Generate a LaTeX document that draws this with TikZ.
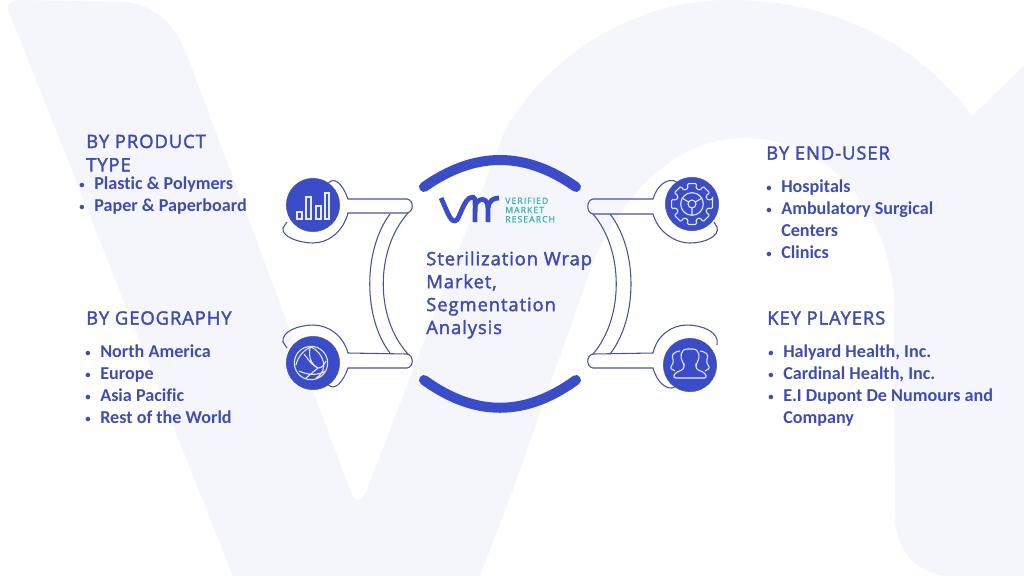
\documentclass[tikz,border=0pt]{standalone}
\usepackage{fontspec}
\setmainfont[Ligatures=NoCommon]{Carlito}
\newfontfamily\headfont[LetterSpace=5,FakeBold=2]{Open Sans}
\newfontfamily\logofont[LetterSpace=12,FakeBold=1]{Open Sans}
\usetikzlibrary{positioning}
\usetikzlibrary{calc}
\definecolor{wmark}{HTML}{F5F6FB}
\definecolor{ringblue}{HTML}{3A4CC8}
\definecolor{inkblue}{HTML}{3F4DB0}
\definecolor{linkblue}{HTML}{4A5296}
\definecolor{tealtxt}{HTML}{35B5B0}
\begin{document}
\begin{tikzpicture}[x=0.75pt,y=-0.75pt]
\tikzstyle{heading}=[anchor=west,inner sep=0pt,text=inkblue,font=\headfont\fontsize{13.8}{17.5}\selectfont,align=left]
\tikzstyle{itemlist}=[anchor=north west,inner sep=0pt,text=inkblue,font=\bfseries\fontsize{13.6}{16.5}\selectfont,align=left]
\tikzstyle{badge}=[circle,fill=ringblue,draw=linkblue,minimum size=40pt,inner sep=0pt]
\tikzstyle{link}=[draw=linkblue,line width=0.8pt]
\tikzstyle{glyph}=[draw=white!88!ringblue,line width=0.8pt]
\newcommand{\bulletrow}[1]{\makebox[11.25pt][l]{\raisebox{1pt}{\fontsize{8}{8}\selectfont\textbullet}}#1}
\useasboundingbox (0,0) rectangle (1024,576);
\fill [white] (0,0) rectangle (1024,576);

% watermark
\fill [wmark] (7,7) .. controls (9,2) and (14,0) .. (20,0) -- (125,2) .. controls (155,5) and (175,25) .. (187,55) -- (350,490) .. controls (354,503) and (362,503) .. (367,490) -- (505,130) .. controls (545,60) and (630,0) .. (729,0) .. controls (830,0) and (915,40) .. (972,116) -- (1024,66) -- (1024,576) -- (945,576) .. controls (910,570) and (895,545) .. (895,515) -- (894,294) .. controls (885,200) and (820,138) .. (745,138) .. controls (680,138) and (630,185) .. (595,257) -- (512,492) -- (480,576) -- (233,576) -- cycle;

% centre arcs
\draw [ringblue,line width=7.5pt,line cap=round] (424,187) .. controls (475,151) and (525,151) .. (576,187);
\draw [ringblue,line width=7.5pt,line cap=round] (424,380) .. controls (475,417) and (525,417) .. (576,380);

% badges
\node [badge] (B1) at (313,205) {};
\node [badge] (B2) at (313,363) {};
\node [badge] (B3) at (692,204) {};
\node [badge] (B4) at (690,365) {};

% left links
\draw [link] (B1.55) .. controls (335,176) and (343,185) .. (348,199) -- (407,199) .. controls (414,200) and (414,212) .. (407,213) -- (348,213) .. controls (343,232) and (328,243) .. (313,243) .. controls (298,243) and (281,236) .. (283,228) -- (287,222);
\draw [link] (B2.305) .. controls (335,391) and (343,382) .. (348,368) -- (407,368) .. controls (414,367) and (414,355) .. (407,354) -- (348,353) .. controls (343,335) and (328,325) .. (313,325) .. controls (298,325) and (281,332) .. (283,342) -- (287,348);
\draw [link] (390,214) .. controls (363,250) and (363,318) .. (390,353);
\draw [link] (408,213) .. controls (375,250) and (375,318) .. (408,354);

% right links
\draw [link] (B3.125) .. controls (668,177) and (657,185) .. (653,199) -- (593,199) .. controls (586,200) and (586,213) .. (593,214) -- (653,214) .. controls (658,232) and (675,243) .. (690,243) .. controls (705,243) and (720,236) .. (717,227) -- (714,222);
\draw [link] (B4.235) .. controls (668,391) and (657,383) .. (653,368) -- (593,368) .. controls (586,367) and (586,355) .. (593,354) -- (653,353) .. controls (657,335) and (672,325) .. (687,325) .. controls (702,325) and (720,332) .. (717,345);
\draw [link] (593,214) .. controls (624,250) and (624,318) .. (593,354);
\draw [link] (610,214) .. controls (638,250) and (638,318) .. (610,354);

% icons
\draw [glyph] (297,212) rectangle (302,219) (306,197) rectangle (311,219) (316,206) rectangle (321,219) (325,193) rectangle (329,219);
\draw [glyph] (311,363) circle (12.5pt) (296,365) .. controls (298,356) and (304,350) .. (311,347) (311,347) .. controls (323,352) and (330,370) .. (316,378) (304,354) .. controls (310,362) and (313,366) .. (318,368) .. controls (322,368) and (324,365) .. (326,361) (299,371) .. controls (310,376) and (318,375) .. (326,371) (310,348) .. controls (308,358) and (312,365) .. (318,368) (318,368) -- (306,378);
\draw [glyph] (B3) circle (8.5pt) (B3) circle (3pt);
\draw [glyph] (692,204)+(0,4) -- +(0,11) (692,204)+(-3.5,-2) -- +(-10,-6) (692,204)+(3.5,-2) -- +(10,-6);
\draw [glyph,shift={(692,204)},rounded corners=1pt] (-13:21) foreach \a in {0,45,...,315} { -- (\a-13:21) -- (\a+13:21) -- (\a+14:16) -- (\a+31:16) } -- cycle;
\draw [glyph,rounded corners=2pt] (673,378) -- (675,373) -- (684,369) -- (684,364) .. controls (680,358) and (680,349) .. (690,349) .. controls (700,349) and (700,358) .. (696,364) -- (696,369) -- (705,373) -- (707,378) -- cycle;
\draw [glyph,rounded corners=1.5pt] (675,371) -- (670,368) -- (674,362) .. controls (671,355) and (673,352) .. (680,351);
\draw [glyph,rounded corners=1.5pt] (705,371) -- (710,368) -- (706,362) .. controls (709,355) and (707,352) .. (700,351);

% logo
\draw [ringblue,line width=3.6pt,line join=round] (441,198) .. controls (446,208) and (450,222) .. (455,221) .. controls (460,221) and (463,197) .. (473,197) .. controls (476,197) and (475,205) .. (475,222);
\draw [ringblue,line width=3.6pt] (475,206) .. controls (477,198) and (488,196) .. (488,208) -- (488,222);
\draw [ringblue,line width=3.6pt] (488,208) .. controls (489,200) and (494,198) .. (499,198);
\node [anchor=west,inner sep=0pt,text=tealtxt,align=left,font=\logofont\fontsize{6.5}{6.9}\selectfont] (logotext) at (505,210) {VERIFIED\\MARKET\\RESEARCH};

% centre title
\node [anchor=north west,inner sep=0pt,text=inkblue,align=left,font=\headfont\fontsize{13.8}{17.2}\selectfont] (title) at (426,251) {Sterilization Wrap\\Market,\\Segmentation\\Analysis};

% texts
\node [heading] (H1) at (86,153) {BY PRODUCT\\TYPE};
\node [itemlist] (L1) at (79,177) {\bulletrow{Plastic \& Polymers}\\\bulletrow{Paper \& Paperboard}};
\node [heading] (H2) at (86,318) {BY GEOGRAPHY};
\node [itemlist] (L2) at (85,344.5) {\bulletrow{North America}\\\bulletrow{Europe}\\\bulletrow{Asia Pacific}\\\bulletrow{Rest of the World}};
\node [heading] (H3) at (766,153) {BY END-USER};
\node [itemlist] (L3) at (766,180) {\bulletrow{Hospitals}\\\bulletrow{Ambulatory Surgical}\\\hspace{11.25pt}Centers\\\bulletrow{Clinics}};
\node [heading] (H4) at (767,318) {KEY PLAYERS};
\node [itemlist] (L4) at (768,344.5) {\bulletrow{Halyard Health, Inc.}\\\bulletrow{Cardinal Health, Inc.}\\\bulletrow{E.I Dupont De Numours and}\\\hspace{11.25pt}Company};
\end{tikzpicture}
\end{document}
